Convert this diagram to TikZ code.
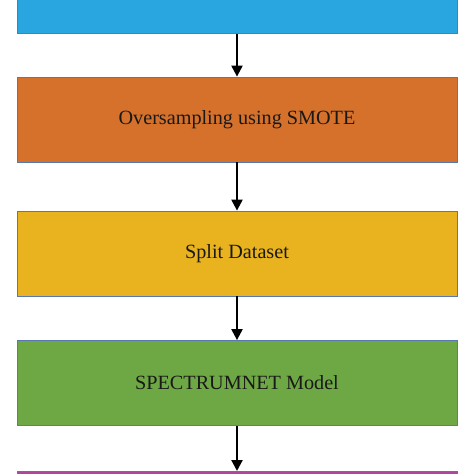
\documentclass[tikz,border=0pt]{standalone}
\usepackage{fontspec}
\setmainfont{Liberation Serif}
\usetikzlibrary{arrows.meta}
\definecolor{cblue}{HTML}{29A5DF}
\definecolor{corange}{HTML}{D5712B}
\definecolor{cyellow}{HTML}{E8B31F}
\definecolor{cgreen}{HTML}{6EA844}
\definecolor{cpurple}{HTML}{B0479C}
\definecolor{cborder}{HTML}{5A78B0}
\begin{document}
\begin{tikzpicture}[x=1pt,y=-1pt,
  stepbox/.style={draw=cborder,line width=0.8pt,minimum width=440pt,minimum height=85pt,inner sep=0pt,
    font=\fontsize{20.2}{24}\selectfont,text=black!90},
  flow/.style={line width=2.2pt,-{Triangle[width=11pt,length=11pt]}}]
\useasboundingbox (0,0) rectangle (474,474);
\clip (0,0) rectangle (474,474);
\node[stepbox,fill=cblue,anchor=south] (b1) at (237,34) {};
\node[stepbox,fill=corange] (b2) at (237,119.5) {Oversampling using SMOTE};
\node[stepbox,fill=cyellow] (b3) at (237,253.5) {Split Dataset};
\node[stepbox,fill=cgreen] (b4) at (237,383) {SPECTRUMNET Model};
\node[stepbox,fill=cpurple,anchor=north] (b5) at (237,471) {};
\draw[flow] (b1.south) -- (b2.north);
\draw[flow] (b2.south) -- (b3.north);
\draw[flow] (b3.south) -- (b4.north);
\draw[flow] (b4.south) -- (b5.north);
\end{tikzpicture}
\end{document}
